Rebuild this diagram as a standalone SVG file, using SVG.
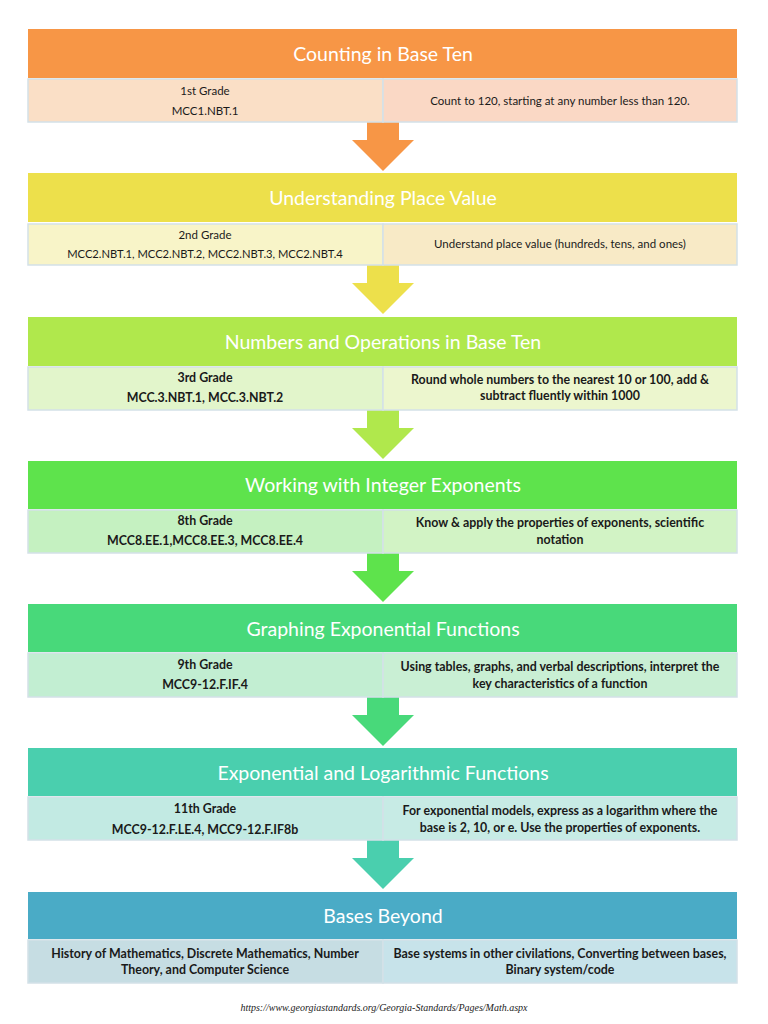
<svg xmlns="http://www.w3.org/2000/svg" width="768" height="1024" viewBox="0 0 768 1024">
<style>
.title{font-family:Lato,"Open Sans","Liberation Sans",sans-serif;font-size:19.5px;fill:#ffffff;text-anchor:middle;dominant-baseline:central}
.t{font-family:Lato,"Open Sans","Liberation Sans",sans-serif;font-size:11.5px;fill:#1a1a1a;text-anchor:middle;dominant-baseline:central}
.b{font-weight:700;font-size:12.4px}
.cell{stroke:#d3e1e8;stroke-width:1.5}
.foot{font-family:"Liberation Serif",serif;font-style:italic;font-size:10px;fill:#222;text-anchor:middle}
</style>
<rect width="768" height="1024" fill="#ffffff"/>

<g id="connectors">
  <path d="M367,122 h32 v18 h15 l-31,31 l-31,-31 h15 z" fill="#f79646"/>
  <path d="M367,265 h32 v18 h15 l-31,31 l-31,-31 h15 z" fill="#ede04b"/>
  <path d="M367,410 h32 v18 h15 l-31,31 l-31,-31 h15 z" fill="#b0e84c"/>
  <path d="M367,553 h32 v18 h15 l-31,31 l-31,-31 h15 z" fill="#5ee34c"/>
  <path d="M367,697 h32 v18 h15 l-31,31 l-31,-31 h15 z" fill="#48d97a"/>
  <path d="M367,840 h32 v18 h15 l-31,31 l-31,-31 h15 z" fill="#4acfae"/>
</g>

<g id="node1">
  <rect x="28" y="29" width="709" height="49" fill="#f79646"/>
  <text class="title" x="383" y="53">Counting in Base Ten</text>
  <rect class="cell" x="28" y="79" width="355" height="43" fill="#fadfc6"/>
  <rect class="cell" x="383" y="79" width="354" height="43" fill="#fad8c5"/>
  <text class="t" x="205" y="90">1st Grade</text>
  <text class="t" x="205" y="110">MCC1.NBT.1</text>
  <text class="t" x="560" y="100">Count to 120, starting at any number less than 120.</text>
</g>

<g id="node2">
  <rect x="28" y="173" width="709" height="49" fill="#ede04b"/>
  <text class="title" x="383" y="197">Understanding Place Value</text>
  <rect class="cell" x="28" y="224" width="355" height="41" fill="#f8f4c8"/>
  <rect class="cell" x="383" y="224" width="354" height="41" fill="#f8eac6"/>
  <text class="t" x="205" y="234">2nd Grade</text>
  <text class="t" x="205" y="253" style="font-size:11.2px">MCC2.NBT.1, MCC2.NBT.2, MCC2.NBT.3, MCC2.NBT.4</text>
  <text class="t" x="560" y="243">Understand place value (hundreds, tens, and ones)</text>
</g>

<g id="node3">
  <rect x="28" y="317" width="709" height="49" fill="#b0e84c"/>
  <text class="title" x="383" y="341">Numbers and Operations in Base Ten</text>
  <rect class="cell" x="28" y="367" width="355" height="43" fill="#e2f5cb"/>
  <rect class="cell" x="383" y="367" width="354" height="43" fill="#ecf6ce"/>
  <text class="t b" x="205" y="377">3rd Grade</text>
  <text class="t b" x="205" y="397">MCC.3.NBT.1, MCC.3.NBT.2</text>
  <text class="t b" x="560" y="379">Round whole numbers to the nearest 10 or 100, add &amp;</text>
  <text class="t b" x="560" y="395">subtract fluently within 1000</text>
</g>

<g id="node4">
  <rect x="28" y="461" width="709" height="48" fill="#5ee34c"/>
  <text class="title" x="383" y="484">Working with Integer Exponents</text>
  <rect class="cell" x="28" y="510" width="355" height="43" fill="#c5f1c1"/>
  <rect class="cell" x="383" y="510" width="354" height="43" fill="#d2f3c5"/>
  <text class="t b" x="205" y="520">8th Grade</text>
  <text class="t b" x="205" y="540">MCC8.EE.1,MCC8.EE.3, MCC8.EE.4</text>
  <text class="t b" x="560" y="522">Know &amp; apply the properties of exponents, scientific</text>
  <text class="t b" x="560" y="539">notation</text>
</g>

<g id="node5">
  <rect x="28" y="604" width="709" height="48" fill="#48d97a"/>
  <text class="title" x="383" y="628">Graphing Exponential Functions</text>
  <rect class="cell" x="28" y="653" width="355" height="44" fill="#c2eed2"/>
  <rect class="cell" x="383" y="653" width="354" height="44" fill="#c9efd4"/>
  <text class="t b" x="205" y="664">9th Grade</text>
  <text class="t b" x="205" y="684">MCC9-12.F.IF.4</text>
  <text class="t b" x="560" y="666">Using tables, graphs, and verbal descriptions, interpret the</text>
  <text class="t b" x="560" y="683">key characteristics of a function</text>
</g>

<g id="node6">
  <rect x="28" y="748" width="709" height="48" fill="#4acfae"/>
  <text class="title" x="383" y="772">Exponential and Logarithmic Functions</text>
  <rect class="cell" x="28" y="797" width="355" height="43" fill="#c2eae3"/>
  <rect class="cell" x="383" y="797" width="354" height="43" fill="#c7ebe5"/>
  <text class="t b" x="205" y="808">11th Grade</text>
  <text class="t b" x="205" y="829">MCC9-12.F.LE.4, MCC9-12.F.IF8b</text>
  <text class="t b" x="560" y="810">For exponential models, express as a logarithm where the</text>
  <text class="t b" x="560" y="827">base is 2, 10, or e. Use the properties of exponents.</text>
</g>

<g id="node7">
  <rect x="28" y="892" width="709" height="47" fill="#4aabc6"/>
  <text class="title" x="383" y="915">Bases Beyond</text>
  <rect class="cell" x="28" y="940" width="355" height="43" fill="#c6dde3"/>
  <rect class="cell" x="383" y="940" width="354" height="43" fill="#c7e3ea"/>
  <text class="t b" x="205" y="953">History of Mathematics, Discrete Mathematics, Number</text>
  <text class="t b" x="205" y="969">Theory, and Computer Science</text>
  <text class="t b" x="560" y="953">Base systems in other civilations, Converting between bases,</text>
  <text class="t b" x="560" y="969">Binary system/code</text>
</g>

<text class="foot" x="384" y="1011">https://www.georgiastandards.org/Georgia-Standards/Pages/Math.aspx</text>
</svg>
